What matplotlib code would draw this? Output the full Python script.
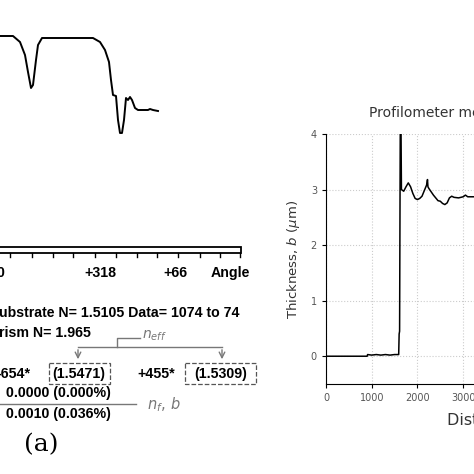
import matplotlib
matplotlib.use("Agg")
import matplotlib.pyplot as plt
from matplotlib.patches import Rectangle

# left panel: m-line spectrum trace (image pixel coords)
spec_x = [0, 13, 20, 25, 28, 31, 33, 36, 38, 42, 45, 93, 100, 105, 109, 111, 113, 116,
          118, 120, 122, 124, 126, 128, 130, 132, 135, 138, 148, 150, 153, 158]
spec_y = [36, 36, 42, 55, 72, 88, 85, 60, 45, 38, 38, 38, 42, 50, 62, 80, 95, 96,
          120, 133, 133, 120, 98, 100, 97, 100, 108, 110, 110, 109, 110, 111]
angle_ticks = [10, 32, 53, 73, 95, 116, 137, 157, 178, 200, 220, 240]
angle_labels = [(0, "0"), (100, "+318"), (175, "+66"), (230, "Angle")]

# right panel: profilometer scan
dist = [0, 900, 910, 1000, 1100, 1200, 1300, 1400, 1500, 1590, 1600, 1610, 1620, 1625, 1640,
        1650, 1700, 1750, 1800, 1850, 1900, 1950, 2000, 2050, 2100, 2150, 2200, 2220, 2230,
        2250, 2300, 2350, 2400, 2450, 2500, 2550, 2600, 2650, 2700, 2750, 2800, 2900,
        3000, 3050, 3100, 3300]
thick = [0, 0, 0.03, 0.02, 0.03, 0.02, 0.03, 0.02, 0.03, 0.03, 0.4, 0.45, 3.0, 4.2, 4.2,
         3.0, 2.97, 3.05, 3.12, 3.05, 2.93, 2.84, 2.82, 2.84, 2.88, 2.98, 3.08, 3.18, 3.05,
         3.02, 2.96, 2.9, 2.85, 2.8, 2.79, 2.75, 2.73, 2.76, 2.85, 2.88, 2.86, 2.85,
         2.87, 2.9, 2.87, 2.87]

fig = plt.figure(figsize=(4.74, 4.74), dpi=100)
px = fig.add_axes([0, 0, 1, 1])
px.set_xlim(0, 474)
px.set_ylim(474, 0)
px.axis("off")

px.plot(spec_x, spec_y, color="black", lw=1.4)
px.add_patch(Rectangle((-5, 247), 246, 6, fill=False, lw=1.3, ec="black"))
for t in angle_ticks:
    px.plot([t, t], [253, 257], color="black", lw=1)
bold = dict(family="Liberation Sans", weight="bold", fontsize=10.2, va="center")
for x, s in angle_labels:
    px.text(x, 273, s, ha="center", **bold)

px.text(-1, 313, "ubstrate N= 1.5105 Data= 1074 to 74", ha="left", **bold)
px.text(-1, 333, "rism N= 1.965", ha="left", **bold)

gray = "#777777"
px.plot([78, 222], [347, 347], color=gray, lw=1)
px.plot([117, 117, 140], [347, 338, 338], color=gray, lw=1)
px.text(142, 336, r"$n_{eff}$", color=gray, fontsize=10, va="center", family="DejaVu Serif")
for ax_x in (78, 222):
    px.annotate("", xy=(ax_x, 362), xytext=(ax_x, 347),
                arrowprops=dict(arrowstyle="->", color=gray, lw=1))
px.text(-4, 374, "-654*", ha="left", **bold)
px.add_patch(Rectangle((49, 363), 61, 21, fill=False, ls="--", lw=0.9, ec="#555555"))
px.text(79, 374, "(1.5471)", ha="center", **bold)
px.text(137, 374, "+455*", ha="left", **bold)
px.add_patch(Rectangle((185, 363), 71, 21, fill=False, ls="--", lw=0.9, ec="#555555"))
px.text(221, 374, "(1.5309)", ha="center", **bold)
px.text(6, 393, "0.0000 (0.000%)", ha="left", **bold)
px.plot([0, 136], [404, 404], color=gray, lw=1)
px.text(6, 414, "0.0010 (0.036%)", ha="left", **bold)
px.text(147, 405, r"$n_f,\,b$", color=gray, fontsize=10.5, va="center", family="DejaVu Serif")
px.text(24, 445, "(a)", family="DejaVu Serif", fontsize=18, va="center")

# right axes
ax = fig.add_axes([326 / 474, 1 - 384 / 474, 160 / 474, 250 / 474])
ax.plot(dist, thick, color="black", lw=1.1)
ax.set_xlim(0, 3500)
ax.set_ylim(-0.5, 4)
ax.set_xticks([0, 1000, 2000, 3000])
ax.set_yticks([0, 1, 2, 3, 4])
ax.grid(True, ls=":", color="#cccccc", lw=0.8)
for side in ("top", "right"):
    ax.spines[side].set_visible(False)
ax.tick_params(labelsize=7, labelcolor="#555555", length=3, width=0.8)
ax.set_ylabel(r"Thickness, $b$ ($\mu$m)", fontsize=9.5, color="#333333", labelpad=6)
fig.text(369 / 474, 1 - 113 / 474, "Profilometer measurement", fontsize=10,
         color="#333333", va="center")
fig.text(447 / 474, 1 - 420 / 474, "Distance (nm)", fontsize=11.5, color="#333333", va="center")

fig.savefig("out.png", dpi=100)
